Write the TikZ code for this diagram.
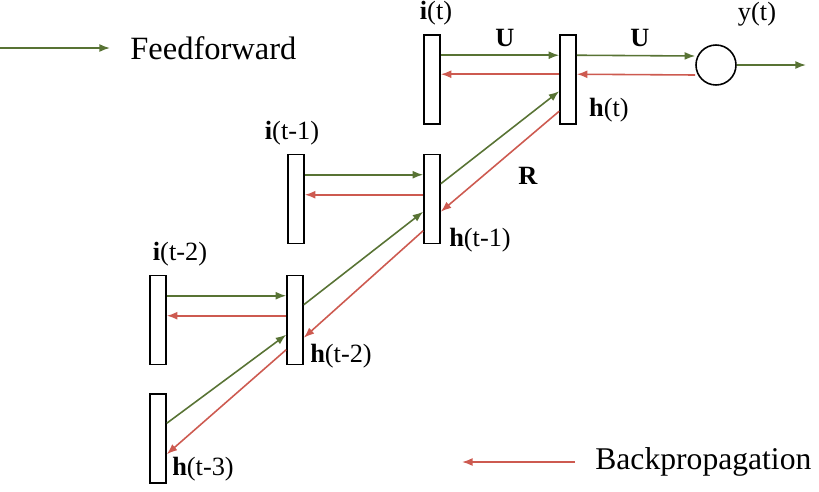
\documentclass[tikz,border=0pt]{standalone}
\usepackage{fontspec}
\setmainfont{Liberation Serif}
\usetikzlibrary{arrows.meta}
\definecolor{ffgreen}{RGB}{88,115,52}
\definecolor{bpred}{RGB}{205,90,80}
\begin{document}
\begin{tikzpicture}[x=0.02cm,y=-0.02cm,
	bar/.style={draw=black,fill=white,line width=0.9pt,minimum width=0.32cm,minimum height=1.78cm,inner sep=0pt},
	ff/.style={draw=ffgreen,line width=0.9pt,-{Latex[length=6pt,width=4.5pt]}},
	bp/.style={draw=bpred,line width=0.9pt,-{Latex[length=6pt,width=4.5pt]}},
	lbl/.style={font=\fontsize{15}{17}\selectfont,inner sep=0pt}]
	\useasboundingbox (0,0) rectangle (819,491);
	\node[bar] (it) at (432,79.5) {};
	\node[bar] (ht) at (568,79.5) {};
	\node[bar] (it1) at (296,199) {};
	\node[bar] (ht1) at (432,199) {};
	\node[bar] (it2) at (158,320) {};
	\node[bar] (ht2) at (295,320) {};
	\node[bar] (ht3) at (158,438.5) {};
	\node[draw=black,line width=0.9pt,circle,minimum size=0.8cm,inner sep=0pt] (out) at (716,65) {};
	\node[lbl] (lit) at (436,13) {\textbf{i}(t)};
	\node[lbl] (lht) at (609,110) {\textbf{h}(t)};
	\node[lbl] (lit1) at (292,133) {\textbf{i}(t-1)};
	\node[lbl] (lht1) at (480,240) {\textbf{h}(t-1)};
	\node[lbl] (lit2) at (180,254) {\textbf{i}(t-2)};
	\node[lbl] (lht2) at (341,356) {\textbf{h}(t-2)};
	\node[lbl] (lht3) at (203,469) {\textbf{h}(t-3)};
	\node[lbl] (ly) at (757,14) {y(t)};
	\node[lbl] (u1) at (505,38) {\textbf{U}};
	\node[lbl] (u2) at (640,38) {\textbf{U}};
	\node[lbl] (r) at (528,176) {\textbf{R}};
	% legend
	\coordinate (ffs) at (0,48);
	\node[lbl,anchor=west,font=\fontsize{18.5}{21}\selectfont] (lff) at (130,48) {Feedforward};
	\draw[ff] (ffs) -- ++(110,0);
	\coordinate (bpe) at (575,462);
	\node[lbl,anchor=west,font=\fontsize{18}{21}\selectfont] (lbp) at (595,462) {Backpropagation};
	\draw[bp] (bpe) -- ++(-113,0);
	% input connections
	\draw[ff] ([yshift=-21*0.02cm]it.north east) -- ([yshift=-21*0.02cm]ht.north west);
	\draw[bp] ([yshift=-40*0.02cm]ht.north west) -- ([yshift=-40*0.02cm]it.north east);
	\draw[ff] ([yshift=-21*0.02cm]it1.north east) -- ([yshift=-21*0.02cm]ht1.north west);
	\draw[bp] ([yshift=-41*0.02cm]ht1.north west) -- ([yshift=-41*0.02cm]it1.north east);
	\draw[ff] ([yshift=-21*0.02cm]it2.north east) -- ([yshift=-21*0.02cm]ht2.north west);
	\draw[bp] ([yshift=-41*0.02cm]ht2.north west) -- ([yshift=-41*0.02cm]it2.north east);
	% output
	\coordinate (yend) at (806,65);
	\draw[ff] ([yshift=-21*0.02cm]ht.north east) -- (out.west |- 0,56);
	\draw[bp] (out.west |- 0,75) -- ([yshift=-40*0.02cm]ht.north east);
	\draw[ff] (out.east) -- (yend);
	% recurrent connections
	\draw[ff] ([yshift=-30*0.02cm]ht3.north east) -- ([yshift=-60*0.02cm]ht2.north west);
	\draw[ff] ([yshift=-30*0.02cm]ht2.north east) -- ([yshift=-58*0.02cm]ht1.north west);
	\draw[ff] ([yshift=-30*0.02cm]ht1.north east) -- ([yshift=-57*0.02cm]ht.north west);
	\draw[bp] ([yshift=-77*0.02cm]ht.north west) -- ([yshift=-58*0.02cm]ht1.north east);
	\draw[bp] ([yshift=-77*0.02cm]ht1.north west) -- ([yshift=-63*0.02cm]ht2.north east);
	\draw[bp] ([yshift=-75*0.02cm]ht2.north west) -- ([yshift=-61*0.02cm]ht3.north east);
\end{tikzpicture}
\end{document}
